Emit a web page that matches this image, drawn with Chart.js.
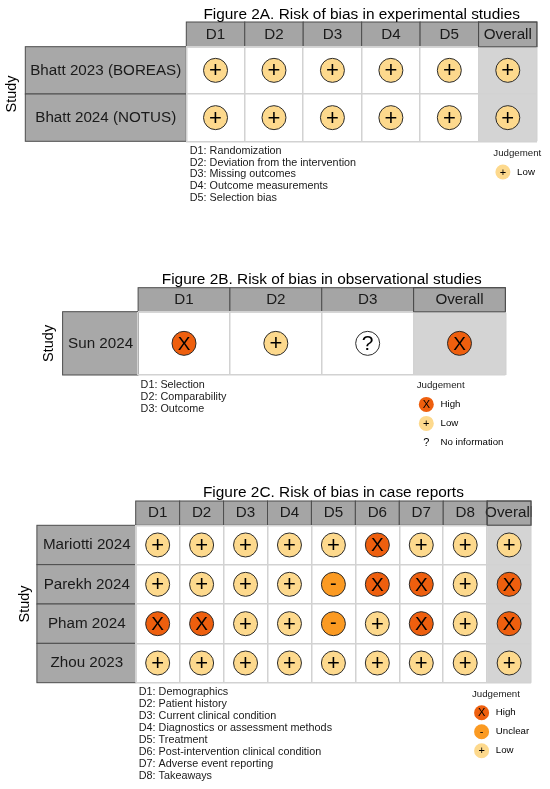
<!DOCTYPE html>
<html>
<head>
<meta charset="utf-8">
<script src="https://cdn.jsdelivr.net/npm/chart.js@4.4.1/dist/chart.umd.min.js"></script>
<style>
  html, body { margin: 0; padding: 0; background: #fff; }
  body { width: 550px; height: 789px; position: relative; overflow: hidden; }
  canvas { position: absolute; left: 0; }
</style>
</head>
<body>
<canvas id="robA" width="550" height="210" style="top:0px"></canvas>
<canvas id="robB" width="550" height="200" style="top:260px"></canvas>
<canvas id="robC" width="550" height="309" style="top:480px"></canvas>
<script>
// Figure 2A - experimental studies
var domainsA = ['D1', 'D2', 'D3', 'D4', 'D5', 'Overall'];
var studiesA = ['Bhatt 2023 (BOREAS)', 'Bhatt 2024 (NOTUS)'];
var judgementsA = [
  ['Low', 'Low', 'Low', 'Low', 'Low', 'Low'],
  ['Low', 'Low', 'Low', 'Low', 'Low', 'Low']
];
var notesA = ['D1: Randomization', 'D2: Deviation from the intervention', 'D3: Missing outcomes',
  'D4: Outcome measurements', 'D5: Selection bias'];
var keysA = ['Low'];

// Figure 2B - observational studies
var domainsB = ['D1', 'D2', 'D3', 'Overall'];
var studiesB = ['Sun 2024'];
var judgementsB = [
  ['High', 'Low', 'No information', 'High']
];
var notesB = ['D1: Selection', 'D2: Comparability', 'D3: Outcome'];
var keysB = ['High', 'Low', 'No information'];

// Figure 2C - case reports
var domainsC = ['D1', 'D2', 'D3', 'D4', 'D5', 'D6', 'D7', 'D8', 'Overall'];
var studiesC = ['Mariotti 2024', 'Parekh 2024', 'Pham 2024', 'Zhou 2023'];
var judgementsC = [
  ['Low', 'Low', 'Low', 'Low', 'Low', 'High', 'Low', 'Low', 'Low'],
  ['Low', 'Low', 'Low', 'Low', 'Unclear', 'High', 'High', 'Low', 'High'],
  ['High', 'High', 'Low', 'Low', 'Unclear', 'Low', 'High', 'Low', 'High'],
  ['Low', 'Low', 'Low', 'Low', 'Low', 'Low', 'Low', 'Low', 'Low']
];
var notesC = ['D1: Demographics', 'D2: Patient history', 'D3: Current clinical condition',
  'D4: Diagnostics or assessment methods', 'D5: Treatment', 'D6: Post-intervention clinical condition',
  'D7: Adverse event reporting', 'D8: Takeaways'];
var keysC = ['High', 'Unclear', 'Low'];

var colours = { 'High': '#ee5f0e', 'Unclear': '#fb9a22', 'Low': '#fdd98d', 'No information': '#ffffff' };
var symbols = { 'High': 'X', 'Unclear': '-', 'Low': '+', 'No information': '?' };
// font size and vertical nudge for the glyph inside each circle
var glyphs = { 'X': [19, 1], '-': [20, 0], '+': [22, 1], '?': [21, 1] };
var FONT = '"Liberation Sans", Arial, Helvetica, sans-serif';

function buildDatasets(domains, studies, judgements) {
  var levels = ['Low', 'Unclear', 'High', 'No information'];
  var sets = [];
  levels.forEach(function(level) {
    var pts = [];
    for (var r = 0; r < studies.length; r++) {
      for (var c = 0; c < domains.length; c++) {
        if (judgements[r][c] === level) pts.push({ x: domains[c], y: studies[r] });
      }
    }
    if (pts.length) {
      sets.push({
        label: level,
        data: pts,
        pointStyle: 'circle',
        pointRadius: 12,
        pointHoverRadius: 12,
        pointBackgroundColor: colours[level],
        pointBorderColor: '#2b2b2b',
        pointBorderWidth: 1
      });
    }
  });
  return sets;
}

var robPlugin = {
  id: 'robDecor',
  beforeDraw: function(chart, args, o) {
    var ctx = chart.ctx, area = chart.chartArea;
    var xs = chart.scales.x;
    var nx = xs.getLabels().length, ny = chart.scales.y.getLabels().length;
    var cw = area.width / nx, rh = area.height / ny;
    ctx.save();
    // overall column shading
    ctx.fillStyle = '#d4d4d4';
    ctx.fillRect(area.right - cw, area.top, cw, area.height);
    ctx.strokeStyle = '#4d4d4d';
    ctx.lineWidth = 1;
    for (var i = 0; i < nx; i++) {
      ctx.fillStyle = '#a5a5a5';
      ctx.fillRect(area.left + i * cw, xs.top, cw, xs.bottom - xs.top);
      ctx.strokeRect(area.left + i * cw, xs.top, cw, xs.bottom - xs.top);
    }
    for (var j = 0; j < ny; j++) {
      ctx.fillStyle = '#a8a8a8';
      ctx.fillRect(o.labelLeft, area.top + j * rh, area.left - o.labelLeft, rh);
      ctx.strokeRect(o.labelLeft, area.top + j * rh, area.left - o.labelLeft, rh);
    }
    ctx.restore();
  },
  afterDatasetsDraw: function(chart) {
    var ctx = chart.ctx;
    ctx.save();
    ctx.fillStyle = '#000';
    ctx.textAlign = 'center';
    ctx.textBaseline = 'middle';
    chart.data.datasets.forEach(function(ds, i) {
      var sym = symbols[ds.label], gl = glyphs[sym];
      ctx.font = gl[0] + 'px ' + FONT;
      chart.getDatasetMeta(i).data.forEach(function(el) {
        ctx.fillText(sym, el.x, el.y + gl[1]);
      });
    });
    ctx.restore();
  },
  afterDraw: function(chart, args, o) {
    var ctx = chart.ctx, area = chart.chartArea, xs = chart.scales.x;
    var nx = xs.getLabels().length, cw = area.width / nx;
    ctx.save();
    // clip header text that runs past the last column
    ctx.fillStyle = '#fff';
    ctx.fillRect(area.right + 0.5, xs.top - 1, chart.width - area.right, xs.bottom - xs.top + 2);
    ctx.strokeStyle = '#4d4d4d';
    ctx.lineWidth = 1;
    ctx.strokeRect(area.right - cw, xs.top, cw, xs.bottom - xs.top);

    ctx.fillStyle = '#000';
    ctx.textBaseline = 'middle';
    ctx.textAlign = 'center';
    ctx.font = '15.4px ' + FONT;
    ctx.fillText(o.title, (area.left + area.right) / 2, xs.top - o.titleGap);

    ctx.textAlign = 'left';
    ctx.fillStyle = '#1a1a1a';
    ctx.font = '10.8px ' + FONT;
    o.notes.forEach(function(t, k) {
      ctx.fillText(t, o.notesX, o.notesY + k * 11.9);
    });

    ctx.font = '9.7px ' + FONT;
    ctx.fillText('Judgement', o.keyX, o.keyY);
    o.keys.forEach(function(key, k) {
      var cy = o.keyY + 18.7 + k * 19;
      ctx.beginPath();
      ctx.arc(o.keyX + 9.6, cy, 7.5, 0, Math.PI * 2);
      ctx.fillStyle = colours[key];
      ctx.fill();
      ctx.fillStyle = '#000';
      ctx.textAlign = 'center';
      ctx.font = '11px ' + FONT;
      ctx.fillText(symbols[key], o.keyX + 9.6, cy + 0.5);
      ctx.textAlign = 'left';
      ctx.font = '9.7px ' + FONT;
      ctx.fillText(key, o.keyX + 23.8, cy);
    });
    ctx.restore();
  }
};

function makeChart(id, domains, studies, judgements, notes, keys, title, g) {
  return new Chart(document.getElementById(id), {
    type: 'scatter',
    data: { datasets: buildDatasets(domains, studies, judgements) },
    options: {
      responsive: false,
      animation: false,
      events: [],
      layout: { padding: { top: g.top, bottom: g.bottom, left: 0, right: g.right } },
      scales: {
        x: {
          type: 'category',
          labels: domains,
          position: 'top',
          offset: true,
          grid: { offset: true, color: '#d2d2d2', lineWidth: 1.5, drawTicks: false },
          border: { display: false },
          ticks: { color: '#1a1a1a', font: { family: FONT, size: 15.2 }, padding: 3.2, maxRotation: 0, autoSkip: false },
          afterFit: function(s) { s.height = g.headH; }
        },
        y: {
          type: 'category',
          labels: studies,
          position: 'left',
          offset: true,
          grid: { offset: true, color: '#d2d2d2', lineWidth: 1.5, drawTicks: false },
          border: { display: false },
          ticks: { color: '#1a1a1a', font: { family: FONT, size: 15.2 }, crossAlign: 'center', padding: 5, autoSkip: false },
          title: { display: true, text: 'Study', color: '#000', font: { family: FONT, size: 14.5 },
                   padding: { top: g.studyX - 8.7, bottom: 0 } },
          afterFit: function(s) { s.width = g.left; }
        }
      },
      plugins: {
        legend: { display: false },
        tooltip: { enabled: false },
        robDecor: {
          title: title, titleGap: g.titleGap, labelLeft: g.labelLeft,
          notes: notes, notesX: g.notesX, notesY: g.notesY,
          keys: keys, keyX: g.keyX, keyY: g.keyY
        }
      }
    },
    plugins: [robPlugin]
  });
}

makeChart('robA', domainsA, studiesA, judgementsA, notesA, keysA,
  'Figure 2A. Risk of bias in experimental studies',
  { top: 22, headH: 24.7, bottom: 68.7, left: 186.3, right: 8.7, labelLeft: 25.3, studyX: 12.3,
    titleGap: 7, notesX: 189.8, notesY: 150.7, keyX: 493.3, keyY: 153.3 });

makeChart('robB', domainsB, studiesB, judgementsB, notesB, keysB,
  'Figure 2B. Risk of bias in observational studies',
  { top: 27.7, headH: 24, bottom: 85, left: 138.1, right: 44.6, labelLeft: 62.6, studyX: 49.2,
    titleGap: 8.4, notesX: 140.6, notesY: 125, keyX: 416.7, keyY: 125.7 });

makeChart('robC', domainsC, studiesC, judgementsC, notesC, keysC,
  'Figure 2C. Risk of bias in case reports',
  { top: 21, headH: 24.3, bottom: 106.3, left: 135.7, right: 18.9, labelLeft: 36.9, studyX: 24.6,
    titleGap: 8, notesX: 138.8, notesY: 212.3, keyX: 472, keyY: 214 });
</script>
</body>
</html>
